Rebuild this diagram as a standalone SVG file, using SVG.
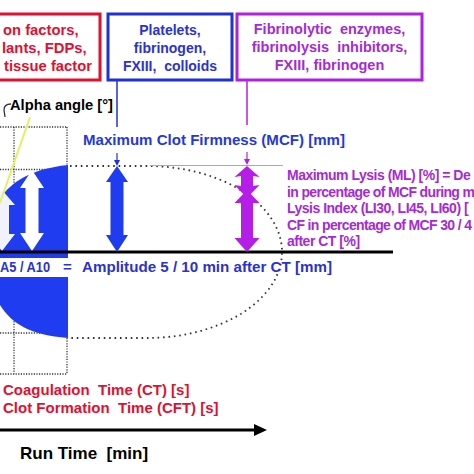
<svg xmlns="http://www.w3.org/2000/svg" width="474" height="474" viewBox="0 0 474 474">
<defs>
<style>
text{font-family:"Liberation Sans",Arial,sans-serif;font-weight:bold}
.box{fill:#fff;stroke-width:3}
.red{fill:#e01030}
.blue{fill:#2a32d0}
.purple{fill:#a52ad6}
.dot{fill:none;stroke:#333;stroke-width:1.8;stroke-dasharray:1.6 3.8}
.fine{fill:none;stroke:#333;stroke-width:1.3;stroke-dasharray:1.2 1.4}
.bt{font-size:14px;text-anchor:middle}
.pt{font-size:14.5px;text-anchor:middle}
.rt{font-size:14px;letter-spacing:-0.5px}
.rt2{font-size:14px;letter-spacing:-0.65px}
</style>
</defs>
<rect width="474" height="474" fill="#fff"/>

<g id="box-coag">
<rect class="box" x="-6" y="14" width="106" height="66" stroke="#e01030"/>
<text class="red" font-size="14.8" x="3" y="35">on factors,</text>
<text class="red" font-size="14.8" x="2" y="53">lants, FDPs,</text>
<text class="red" font-size="14.8" x="4" y="70.5">tissue factor</text>
</g>

<g id="box-platelets">
<rect class="box" x="108" y="14" width="124" height="66" stroke="#2030d8"/>
<text class="blue bt" x="170" y="35">Platelets,</text>
<text class="blue bt" x="170" y="53">fibrinogen,</text>
<text class="blue bt" x="170" y="70.5" xml:space="preserve">FXIII,  colloids</text>
</g>

<g id="box-fibrinolysis">
<rect class="box" x="237" y="14" width="185" height="66" stroke="#b020e0"/>
<text class="purple pt" x="329.5" y="34" xml:space="preserve">Fibrinolytic  enzymes,</text>
<text class="purple pt" x="329.5" y="52" xml:space="preserve">fibrinolysis  inhibitors,</text>
<text class="purple pt" x="329.5" y="69.5">FXIII, fibrinogen</text>
</g>

<g id="trace">
<path class="fine" d="M0,127 H67 M14,127 V252 M67,127 V166 M0,169.5 H68 M0,333 H68 M14,277 V374 M67,338 V374 M0,374 H67"/>
<path d="M0,198 C12,182 30,169 68,165 L68,258 L0,258 Z" fill="#1f3cf0"/>
<path d="M0,277 L68,277 L68,338 C30,335 12,324 0,305 Z" fill="#1f3cf0"/>
<path class="dot" d="M70,166 H147 A135,86 0 0 1 147,338 H70"/>
<line x1="150" y1="165.5" x2="283" y2="165.5" stroke="#aaa" stroke-width="1"/>
<polygon points="2,190 15,205 9,205 9,234 15,234 2,251 -11,234 -5,234 -5,205 -11,205" fill="#f2f2fc"/>
<polygon points="32,170 44,188 38.5,188 38.5,233 44,233 32,251 20,233 25.5,233 25.5,188 20,188" fill="#fff"/>
<line x1="30" y1="117" x2="0" y2="203" stroke="#e4f060" stroke-width="2"/>
<path d="M11,104 C6,104 4,106 4,110 L5,117" fill="none" stroke="#333" stroke-width="1.3"/>
<line x1="0" y1="252" x2="393" y2="252" stroke="#000" stroke-width="3"/>
</g>

<g id="alpha">
<text x="10" y="110" font-size="14" fill="#000" textLength="103" lengthAdjust="spacingAndGlyphs">Alpha angle [°]</text>
</g>

<g id="mcf">
<text x="83" y="145" font-size="15" fill="#1f38e0" textLength="262" lengthAdjust="spacingAndGlyphs">Maximum Clot Firmness (MCF) [mm]</text>
<polygon points="117,166 128,182 123.5,182 123.5,235 128,235 117,252 106,235 110.5,235 110.5,182 106,182" fill="#1f3cf0"/>
</g>

<g id="lysis">
<polygon points="247,166 259.5,177 253,176 253,186 259.5,185 247,198 234.5,185 241,186 241,176 234.5,177" fill="#b41ee6"/>
<polygon points="247,190 259.5,203 253,203 253,238 259.5,238 247,252 234.5,238 241,238 241,203 234.5,203" fill="#b41ee6"/>
<text class="purple rt" x="287" y="180">Maximum Lysis (ML) [%] = De</text>
<text class="purple rt2" x="287" y="196.5">in percentage of MCF during m</text>
<text class="purple rt" x="287" y="213">Lysis Index (LI30, LI45, LI60) [</text>
<text class="purple rt2" x="287" y="229.5">CF in percentage of MCF 30 / 4</text>
<text class="purple rt" x="287" y="246">after CT [%]</text>
</g>

<g id="amplitude">
<text class="blue" x="0" y="272" font-size="15" textLength="50" lengthAdjust="spacingAndGlyphs">A5 / A10</text>
<text class="blue" x="63" y="272" font-size="15">=</text>
<text class="blue" x="82" y="272" font-size="15" textLength="250" lengthAdjust="spacingAndGlyphs">Amplitude 5 / 10 min after CT [mm]</text>
</g>

<g id="ct-cft">
<text class="red" x="3" y="395" font-size="15" xml:space="preserve">Coagulation  Time (CT) [s]</text>
<text class="red" x="3" y="413" font-size="15" xml:space="preserve">Clot Formation  Time (CFT) [s]</text>
</g>

<g id="connectors">
<line x1="117" y1="80" x2="117" y2="127" stroke="#2030d8" stroke-width="1.5"/>
<line x1="117" y1="153" x2="117" y2="161" stroke="#2030d8" stroke-width="1.2"/>
<polygon points="114,160 120,160 117,166" fill="#2030d8"/>
<line x1="247" y1="80" x2="247" y2="125" stroke="#b020e0" stroke-width="1.5"/>
<line x1="247" y1="152" x2="247" y2="160" stroke="#b020e0" stroke-width="1.2"/>
<polygon points="244,159 250,159 247,165" fill="#b020e0"/>
</g>

<g id="axis">
<line x1="0" y1="430" x2="257" y2="430" stroke="#000" stroke-width="3"/>
<polygon points="254,424 267,430 254,436" fill="#000"/>
<text x="20" y="459" font-size="17" fill="#000" xml:space="preserve">Run Time  [min]</text>
</g>
</svg>
